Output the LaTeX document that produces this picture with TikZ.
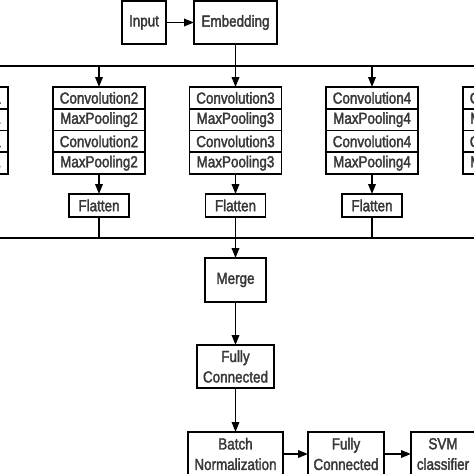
\documentclass[tikz,border=0pt]{standalone}
\usepackage{fontspec}
\setmainfont{Liberation Sans}[FakeStretch=0.84, FakeBold=2]
\usetikzlibrary{arrows.meta,positioning}
\definecolor{labelgray}{RGB}{55,55,55}

\begin{document}
\begin{tikzpicture}[
        x=1pt, y=-1pt,
        every node/.style={font=\fontsize{16}{20.5}\selectfont, text=labelgray},
        box/.style={rectangle, draw, line width=1.8pt, inner sep=0pt, outer sep=0pt, align=center},
        layer/.style={box, minimum width=92pt, minimum height=21.75pt},
        arr/.style={-{Triangle[length=10pt,width=7.5pt]}, line width=1.8pt},
        bus/.style={line width=1.8pt}
    ]
        \useasboundingbox (0,0) rectangle (474,474);
        \clip (0,0) rectangle (474,474);

        % Top: input and embedding
        \node[box, minimum width=44pt, minimum height=43pt] (input) at (144,22.5) {Input};
        \node[box, minimum width=83pt, minimum height=43pt] (embed) at (235.5,22.5) {Embedding};
        \draw[arr] (input) -- (embed);

        % Bus lines
        \coordinate (bustl) at (-10,66);
        \coordinate (bustr) at (484,66);
        \coordinate (busbl) at (-10,238);
        \coordinate (busbr) at (484,238);
        \draw[bus] (bustl) -- (bustr);
        \draw[bus] (busbl) -- (busbr);

        % Convolution branches
        \foreach \c/\x in {1/-38,2/99,3/235.5,4/372,5/509} {
            \node[layer] (conv\c a) at (\x,97.9) {Convolution\c};
            \node[layer, below=0pt of conv\c a] (pool\c a) {MaxPooling\c};
            \node[layer, below=0pt of pool\c a] (conv\c b) {Convolution\c};
            \node[layer, below=0pt of conv\c b] (pool\c b) {MaxPooling\c};
        }

        % Flatten
        \foreach \c in {2,3,4} {
            \node[box, minimum width=60pt, minimum height=23pt, below=20pt of pool\c b] (flat\c) {Flatten};
            \draw[arr] (pool\c b) -- (flat\c);
            \draw[bus] (flat\c) -- (flat\c |- busbl);
        }

        % Arrows into branches
        \draw[arr] (conv2a.north |- bustl) -- (conv2a);
        \draw[arr] (embed) -- (conv3a);
        \draw[arr] (conv4a.north |- bustl) -- (conv4a);

        % Head
        \node[box, minimum width=61pt, minimum height=44pt] (merge) at (235.5,280) {Merge};
        \node[box, minimum width=77pt, minimum height=43pt] (fc1) at (235.5,366.5) {Fully\\Connected};
        \node[box, minimum width=95pt, minimum height=44pt] (bn) at (235.5,454) {Batch\\Normalization};
        \node[box, minimum width=76pt, minimum height=44pt] (fc2) at (346,454) {Fully\\Connected};
        \node[box, minimum width=64pt, minimum height=44pt] (svm) at (443,454) {SVM\\classifier};

        \draw[arr] (merge |- busbl) -- (merge);
        \draw[arr] (merge) -- (fc1);
        \draw[arr] (fc1) -- (bn);
        \draw[arr] (bn) -- (fc2);
        \draw[arr] (fc2) -- (svm);
    \end{tikzpicture}
\end{document}
